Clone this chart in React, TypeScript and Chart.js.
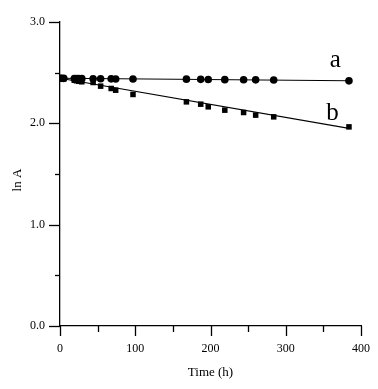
import React, { useEffect, useRef } from "react";
import { Chart, registerables } from "chart.js";

Chart.register(...registerables);

const times = [0, 2, 5, 19, 22, 25, 29, 44, 54, 68, 74, 97, 168, 187, 197, 219, 244, 260, 284, 384];
const seriesA = [2.445, 2.445, 2.444, 2.443, 2.442, 2.442, 2.441, 2.44, 2.44, 2.439, 2.438, 2.437, 2.436, 2.434, 2.433, 2.431, 2.43, 2.429, 2.428, 2.419];
const seriesB = [2.445, 2.442, 2.438, 2.425, 2.42, 2.415, 2.41, 2.403, 2.367, 2.344, 2.327, 2.285, 2.212, 2.189, 2.163, 2.13, 2.107, 2.081, 2.064, 1.965];
const fitTimes = [0, 384];
const fitA = [2.445, 2.42];
const fitB = [2.445, 1.95];
const xTicks = [0, 100, 200, 300, 400];
const yTicks = [0, 1, 2, 3];
const seriesLabels = ["a", "b"];
const xTitle = "Time (h)";
const yTitle = "ln A";

const FONT = '"Liberation Serif", "Times New Roman", serif';

const axisPlugin = {
  id: "axisDecor",
  afterDraw(chart: any) {
    const ctx = chart.ctx;
    const xs = chart.scales.x;
    const ys = chart.scales.y;
    const area = chart.chartArea;
    ctx.save();
    ctx.strokeStyle = "#000";
    ctx.lineWidth = 1.3;
    for (let v = 0; v <= 400; v += 50) {
      const px = Math.round(xs.getPixelForValue(v)) + 0.5;
      const len = v % 100 === 0 ? 10 : 6;
      ctx.beginPath();
      ctx.moveTo(px, area.bottom);
      ctx.lineTo(px, area.bottom + len);
      ctx.stroke();
    }
    for (let v = 0; v <= 3; v += 0.5) {
      const py = Math.round(ys.getPixelForValue(v)) + 0.5;
      const len = Number.isInteger(v) ? 11 : 5;
      ctx.beginPath();
      ctx.moveTo(area.left, py);
      ctx.lineTo(area.left - len, py);
      ctx.stroke();
    }
    ctx.fillStyle = "#000";
    ctx.textAlign = "center";
    ctx.textBaseline = "middle";
    ctx.font = "13px " + FONT;
    ctx.fillText(xTitle, (area.left + area.right) / 2, 373);
    ctx.save();
    ctx.translate(18, 180);
    ctx.rotate(-Math.PI / 2);
    ctx.fillText(yTitle, 0, 0);
    ctx.restore();
    ctx.font = "25px " + FONT;
    ctx.textAlign = "center";
    ctx.textBaseline = "alphabetic";
    ctx.fillText(seriesLabels[0], xs.getPixelForValue(366), ys.getPixelForValue(2.551));
    ctx.fillText(seriesLabels[1], xs.getPixelForValue(362), ys.getPixelForValue(2.031));
    ctx.restore();
  },
};

export default function App() {
  const ref = useRef<HTMLCanvasElement | null>(null);
  useEffect(() => {
    if (!ref.current) return;
    const toPts = (xsArr: number[], ysArr: number[]) => xsArr.map((x, i) => ({ x, y: ysArr[i] }));
    const chart = new Chart(ref.current, {
      type: "scatter",
      data: {
        datasets: [
          {
            label: "a",
            data: toPts(times, seriesA),
            pointStyle: "circle",
            pointRadius: 3.8,
            backgroundColor: "#000",
            borderColor: "#000",
            borderWidth: 0,
            showLine: false,
          },
          {
            label: "b",
            data: toPts(times, seriesB),
            pointStyle: "rect",
            pointRadius: 3.9,
            backgroundColor: "#000",
            borderColor: "#000",
            borderWidth: 0,
            showLine: false,
          },
          {
            label: "fit a",
            data: toPts(fitTimes, fitA),
            showLine: true,
            pointRadius: 0,
            borderColor: "#000",
            borderWidth: 1.2,
          },
          {
            label: "fit b",
            data: toPts(fitTimes, fitB),
            showLine: true,
            pointRadius: 0,
            borderColor: "#000",
            borderWidth: 1.2,
          },
        ],
      },
      options: {
        responsive: false,
        animation: false,
        devicePixelRatio: 1,
        layout: { padding: { top: 22, right: 17, left: 0, bottom: 0 } },
        plugins: { legend: { display: false }, tooltip: { enabled: false } },
        scales: {
          x: {
            type: "linear",
            min: 0,
            max: 400,
            afterFit: (s: any) => {
              s.height = 63;
              s.paddingLeft = 0;
              s.paddingRight = 0;
            },
            afterBuildTicks: (s: any) => {
              s.ticks = xTicks.map((v) => ({ value: v }));
            },
            grid: { display: false, drawTicks: false },
            border: { display: true, color: "#000", width: 1.3 },
            ticks: {
              color: "#000",
              font: { family: FONT, size: 12 },
              padding: 16,
              maxRotation: 0,
              callback: (v: any) => String(v),
            },
          },
          y: {
            type: "linear",
            min: 0,
            max: 3,
            afterFit: (s: any) => {
              s.width = 60;
              s.paddingTop = 0;
              s.paddingBottom = 0;
            },
            afterBuildTicks: (s: any) => {
              s.ticks = yTicks.map((v) => ({ value: v }));
            },
            grid: { display: false, drawTicks: false },
            border: { display: true, color: "#000", width: 1.3 },
            ticks: {
              color: "#000",
              font: { family: FONT, size: 12 },
              padding: 15,
              callback: (v: any) => Number(v).toFixed(1),
            },
          },
        },
      },
      plugins: [axisPlugin],
    });
    return () => chart.destroy();
  }, []);
  return (
    <div style={{ position: "fixed", left: 0, top: 0, width: 378, height: 389, background: "#fff" }}>
      <canvas ref={ref} width={378} height={389} style={{ display: "block" }} />
    </div>
  );
}
